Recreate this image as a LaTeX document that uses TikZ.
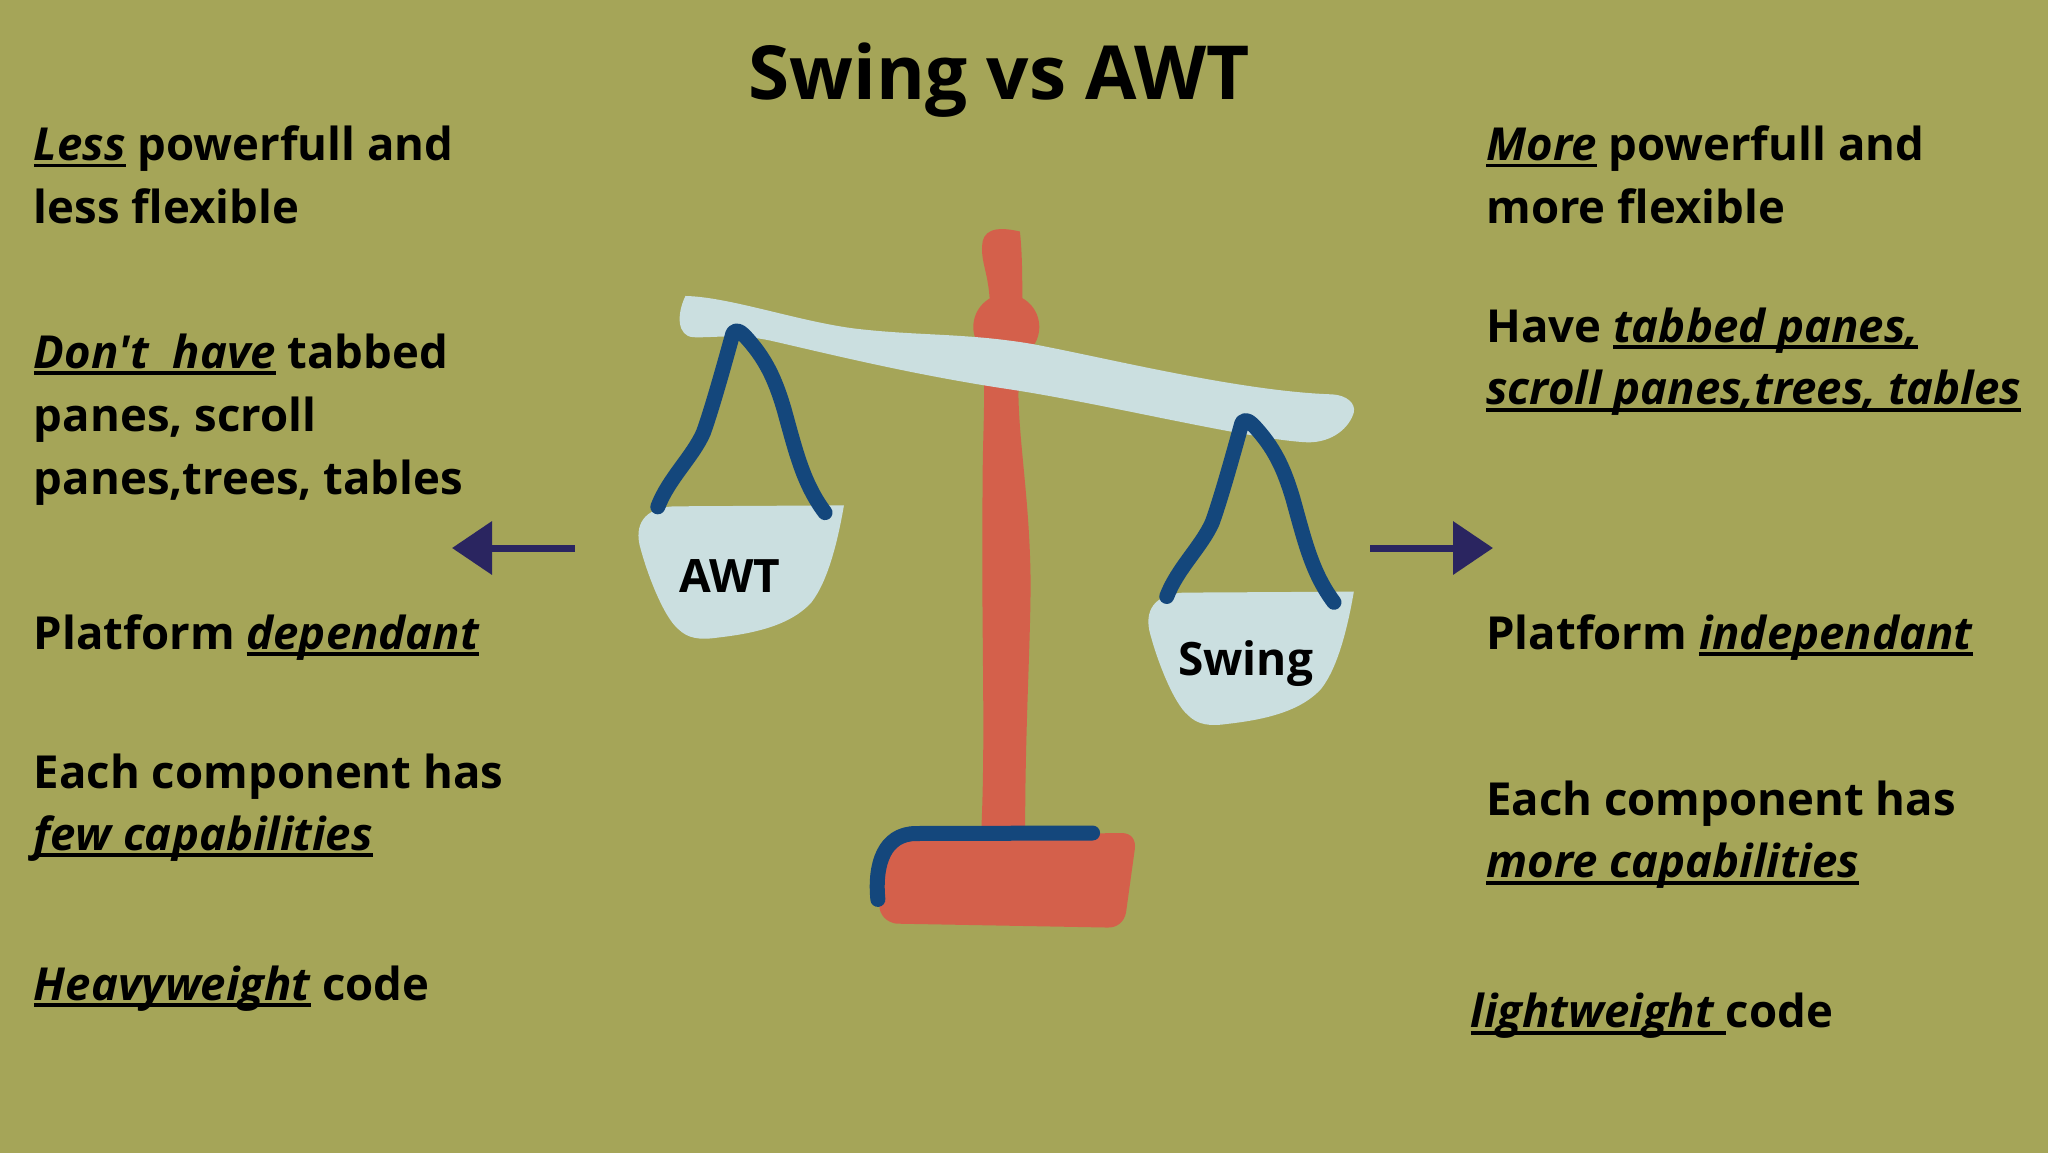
\documentclass[tikz,border=0pt]{standalone}
\usepackage{fontspec}
\setmainfont{Open Sans}
\usetikzlibrary{arrows.meta}
\definecolor{bgcol}{HTML}{A5A558}
\definecolor{redcol}{HTML}{D4604B}
\definecolor{beamcol}{HTML}{CBDFE0}
\definecolor{bluecol}{HTML}{14477C}
\definecolor{navycol}{HTML}{2A2560}
\newcommand\ulit[1]{\setbox0\hbox{\itshape #1}\rlap{\rule[-0.15em]{\wd0}{0.085em}}\box0\relax}
\tikzset{
  txt/.style={anchor=base west,inner sep=0pt,outer sep=0pt,font=\fontsize{45.5}{50}\selectfont\bfseries,text=black},
  pantxt/.style={anchor=base west,inner sep=0pt,outer sep=0pt,font=\fontsize{46}{50}\selectfont\bfseries,text=black},
  ttl/.style={anchor=base west,inner sep=0pt,font=\fontsize{74.6}{80}\selectfont\bfseries,text=black},
  string/.style={draw=bluecol,line width=15pt,line cap=round,line join=round},
  navarrow/.style={draw=navycol,line width=7pt,-{Triangle[length=40pt,width=52pt,fill=navycol]}}
}
\begin{document}
\begin{tikzpicture}[x=1pt,y=-1pt]
\useasboundingbox (0,0) rectangle (2048,1152);
\fill[bgcol] (-3,-3) rectangle (2051,1155);
% scale, in coordinates of the 760px crop at (620,200)
\begin{scope}[shift={(620,200)},x=0.4847pt,y=-0.4847pt]
  % pillar
  \fill[redcol] (747,95) .. controls (748,65) and (770,52) .. (825,65)
     .. controls (830,110) and (830,160) .. (830,210)
     -- (822,400) .. controls (823,500) and (845,620) .. (847,780)
     .. controls (848,900) and (835,1100) .. (836,1310)
     -- (745,1310) .. controls (755,1100) and (745,900) .. (748,600)
     .. controls (748,500) and (752,450) .. (751,380)
     -- (763,210) .. controls (760,150) and (745,130) .. (747,95) -- cycle;
  \fill[redcol] (797,262) circle[radius=33pt];
  % base
  \fill[redcol] (560,1325) -- (740,1310) -- (1035,1306)
     .. controls (1055,1306) and (1065,1320) .. (1062,1340)
     -- (1044,1470) .. controls (1040,1490) and (1025,1502) .. (1005,1501)
     -- (570,1493) .. controls (550,1490) and (535,1475) .. (535,1455)
     -- (540,1360) -- cycle;
  % beam
  \fill[beamcol] (135,198) .. controls (230,200) and (380,255) .. (500,267)
     .. controls (620,280) and (720,275) .. (850,297)
     .. controls (1000,325) and (1280,395) .. (1470,401)
     .. controls (1500,403) and (1518,420) .. (1514,438)
     .. controls (1505,470) and (1470,500) .. (1420,500)
     .. controls (1300,495) and (1000,420) .. (800,390)
     .. controls (600,360) and (420,315) .. (310,290)
     .. controls (240,275) and (190,285) .. (150,283)
     .. controls (120,280) and (115,240) .. (135,198) -- cycle;
  % pans
  \fill[beamcol] (462,630) -- (110,632) .. controls (60,635) and (30,660) .. (40,710)
     .. controls (55,770) and (90,860) .. (120,885)
     .. controls (140,905) and (165,908) .. (200,903)
     .. controls (270,895) and (350,880) .. (395,830)
     .. controls (430,785) and (450,700) .. (462,630) -- cycle;
  \fill[beamcol] (1514,808) -- (1162,810) .. controls (1112,813) and (1082,838) .. (1092,888)
     .. controls (1107,948) and (1142,1038) .. (1172,1063)
     .. controls (1192,1083) and (1217,1086) .. (1252,1081)
     .. controls (1322,1073) and (1402,1058) .. (1447,1008)
     .. controls (1482,963) and (1502,878) .. (1514,808) -- cycle;
  % strings
  \coordinate (sl1) at (78,633);
  \coordinate (sl2) at (423,645);
  \coordinate (sr1) at (1128,818);
  \coordinate (sr2) at (1473,830);
  \draw[string] (sl1) .. controls (100,575) and (150,530) .. (172,480)
     .. controls (190,430) and (215,340) .. (233,275)
     .. controls (237,268) and (245,268) .. (255,278)
     .. controls (300,325) and (320,370) .. (338,430)
     .. controls (363,520) and (378,585) .. (sl2);
  \draw[string] (sr1) .. controls (1150,760) and (1200,715) .. (1222,665)
     .. controls (1240,615) and (1265,525) .. (1283,460)
     .. controls (1287,453) and (1295,453) .. (1305,463)
     .. controls (1350,510) and (1370,555) .. (1388,615)
     .. controls (1413,705) and (1428,770) .. (sr2);
  % base stroke
  \coordinate (b1) at (532,1443);
  \coordinate (b2) at (975,1306);
  \draw[string] (b1) .. controls (525,1370) and (545,1308) .. (610,1307) -- (b2);
\end{scope}
% arrows
\coordinate (la) at (575,548);
\coordinate (lb) at (452,548);
\coordinate (ra) at (1370,548);
\coordinate (rb) at (1493,548);
\draw[navarrow] (la) -- (lb);
\draw[navarrow] (ra) -- (rb);
% text, in coordinates of a 1568-wide view
\begin{scope}[x=1.3061pt,y=-1.3061pt]
\node[ttl] (title) at (573,76.5) {Swing vs AWT};
\node[pantxt] (awt) at (520,454) {AWT};
\node[pantxt] (swing) at (902,517) {Swing};
\node[txt] (l1) at (26,123) {\ulit{Less} powerfull and};
\node[txt] (l2) at (26,171) {less flexible};
\node[txt] (l3) at (26,282) {\ulit{Don\textquotesingle t\ \ have} tabbed};
\node[txt] (l4) at (26,330) {panes, scroll};
\node[txt] (l5) at (26,378.5) {panes,trees, tables};
\node[txt] (l6) at (26,497) {Platform \ulit{dependant}};
\node[txt] (l7) at (26,603.5) {Each component has};
\node[txt] (l8) at (26,651) {\ulit{few capabilities}};
\node[txt] (l9) at (26,766) {\ulit{Heavyweight} code};
\node[txt] (r1) at (1138,123) {\ulit{More} powerfull and};
\node[txt] (r2) at (1138,171) {more flexible};
\node[txt] (r3) at (1138,262) {Have \ulit{tabbed panes,}};
\node[txt] (r4) at (1138,310) {\ulit{scroll panes,trees, tables}};
\node[txt] (r5) at (1138,497) {Platform \ulit{independant}};
\node[txt] (r6) at (1138,624) {Each component has};
\node[txt] (r7) at (1138,672) {\ulit{more capabilities}};
\node[txt] (r8) at (1126,787) {\ulit{lightweight\ }code};
\end{scope}
\end{tikzpicture}
\end{document}
